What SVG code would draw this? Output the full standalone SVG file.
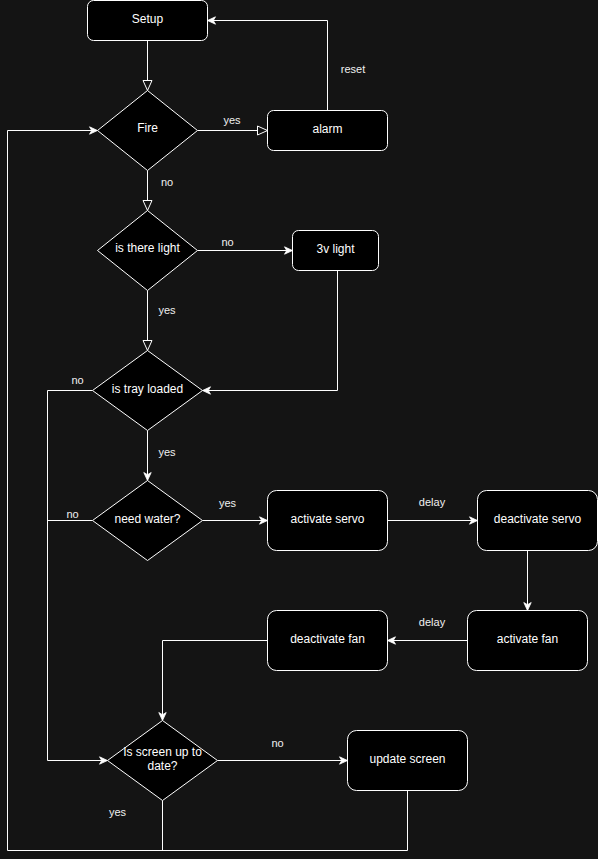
<svg xmlns="http://www.w3.org/2000/svg" width="598" height="859" viewBox="0 0 598 859">
<style>
.bg{fill:#141414}
.n{fill:#000;stroke:#fff;stroke-width:1}
.e{fill:none;stroke:#fff;stroke-width:1}
.t{font-family:"Liberation Sans",Arial,Helvetica,sans-serif;font-size:12px;fill:#fff;text-anchor:middle}
.l{font-family:"Liberation Sans",Arial,Helvetica,sans-serif;font-size:11px;fill:#f0f0f0;text-anchor:middle}
</style>
<defs>
<marker id="c" markerUnits="userSpaceOnUse" markerWidth="10" markerHeight="10" refX="8" refY="4" orient="auto" overflow="visible">
<path d="M0,0.3 L8,4 L0,7.7 L2.2,4 Z" fill="#fff" stroke="#fff" stroke-width="0.8"/>
</marker>
<marker id="o" markerUnits="userSpaceOnUse" markerWidth="12" markerHeight="12" refX="10" refY="5" orient="auto" overflow="visible">
<path d="M0,0.5 L10,5 L0,9.5 Z" fill="#141414" stroke="#fff" stroke-width="1"/>
</marker>
</defs>
<rect class="bg" x="0" y="0" width="598" height="859"/>
<g id="connectors">
<path class="e" d="M147.5,40.5 V90.5" marker-end="url(#o)"/>
<path class="e" d="M197.5,130.5 H267.5" marker-end="url(#o)"/>
<text class="l" x="232" y="124">yes</text>
<path class="e" d="M327.5,110.5 V20.5 H207.5" marker-end="url(#c)"/>
<text class="l" x="353" y="73">reset</text>
<path class="e" d="M147.5,170.5 V210.5" marker-end="url(#o)"/>
<text class="l" x="167" y="186">no</text>
<path class="e" d="M197.5,250.5 H292.5" marker-end="url(#c)"/>
<text class="l" x="227.5" y="246">no</text>
<path class="e" d="M147.5,290.5 V350.5" marker-end="url(#o)"/>
<text class="l" x="167" y="314">yes</text>
<path class="e" d="M337.5,270.5 V390.5 H202.5" marker-end="url(#c)"/>
<path class="e" d="M92.5,390.5 H47.5 V760.5 H107.5" marker-end="url(#c)"/>
<text class="l" x="77.5" y="384">no</text>
<path class="e" d="M147.5,430.5 V480.5" marker-end="url(#c)"/>
<text class="l" x="167" y="456">yes</text>
<path class="e" d="M92.5,520.5 H47.5"/>
<text class="l" x="72.5" y="518">no</text>
<path class="e" d="M202.5,520.5 H267.5" marker-end="url(#c)"/>
<text class="l" x="227.5" y="507">yes</text>
<path class="e" d="M387.5,520.5 H477.5" marker-end="url(#c)"/>
<text class="l" x="432" y="506">delay</text>
<path class="e" d="M527.5,550.5 V610.5" marker-end="url(#c)"/>
<path class="e" d="M467.5,640.5 H387.5" marker-end="url(#c)"/>
<text class="l" x="432" y="626">delay</text>
<path class="e" d="M267.5,640.5 H162.5 V720.5" marker-end="url(#c)"/>
<path class="e" d="M217.5,760.5 H347.5" marker-end="url(#c)"/>
<text class="l" x="277.5" y="747">no</text>
<path class="e" d="M162.5,800.5 V850.5"/>
<text class="l" x="117.5" y="816">yes</text>
<path class="e" d="M407.5,790.5 V850.5 H7.5 V130.5 H97.5" marker-end="url(#c)"/>
</g>
<g id="setup"><rect class="n" x="87.5" y="0.5" width="120" height="40" rx="6"/><text class="t" x="147.5" y="22.5">Setup</text></g>
<g id="fire"><polygon class="n" points="147.5,90.5 197.5,130.5 147.5,170.5 97.5,130.5"/><text class="t" x="147.5" y="131.5">Fire</text></g>
<g id="alarm"><rect class="n" x="267.5" y="110.5" width="120" height="40" rx="6"/><text class="t" x="327.5" y="133">alarm</text></g>
<g id="light"><polygon class="n" points="147.5,210.5 197.5,250.5 147.5,290.5 97.5,250.5"/><text class="t" x="147.5" y="251.5">is there light</text></g>
<g id="light3v"><rect class="n" x="292.5" y="230.5" width="86" height="40" rx="6"/><text class="t" x="335.5" y="252.5">3v light</text></g>
<g id="tray"><polygon class="n" points="147.5,350.5 202.5,390.5 147.5,430.5 92.5,390.5"/><text class="t" x="147.5" y="392.5">is tray loaded</text></g>
<g id="water"><polygon class="n" points="147.5,480.5 202.5,520.5 147.5,560.5 92.5,520.5"/><text class="t" x="147.5" y="522.5">need water?</text></g>
<g id="actservo"><rect class="n" x="267.5" y="490.5" width="120" height="60" rx="9"/><text class="t" x="327.5" y="522.5">activate servo</text></g>
<g id="deactservo"><rect class="n" x="477.5" y="490.5" width="120" height="60" rx="9"/><text class="t" x="537.5" y="522.5">deactivate servo</text></g>
<g id="actfan"><rect class="n" x="467.5" y="610.5" width="120" height="60" rx="9"/><text class="t" x="527.5" y="642.5">activate fan</text></g>
<g id="deactfan"><rect class="n" x="267.5" y="610.5" width="120" height="60" rx="9"/><text class="t" x="327.5" y="642.5">deactivate fan</text></g>
<g id="screen"><polygon class="n" points="162.5,720.5 217.5,760.5 162.5,800.5 107.5,760.5"/><text class="t" x="162.5" y="756">Is screen up to</text><text class="t" x="162.5" y="770">date?</text></g>
<g id="update"><rect class="n" x="347.5" y="730.5" width="120" height="60" rx="9"/><text class="t" x="407.5" y="762.5">update screen</text></g>
</svg>
